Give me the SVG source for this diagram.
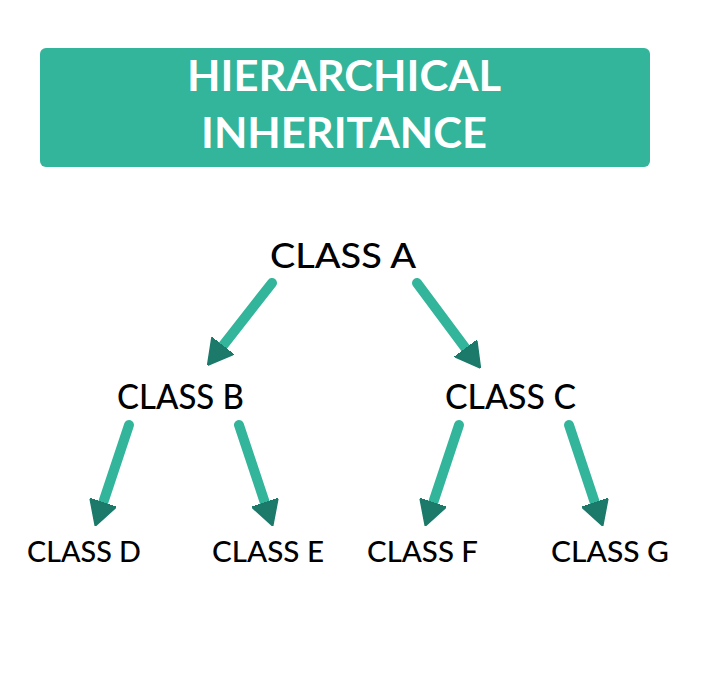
<svg xmlns="http://www.w3.org/2000/svg" width="727" height="685" viewBox="0 0 727 685">
<style>
.title{font-family:Lato,"Open Sans",sans-serif;font-weight:700;font-size:42px;fill:#ffffff;text-anchor:middle}
.lbl{font-family:Lato,"Open Sans",sans-serif;font-weight:500;fill:#000000;text-anchor:middle}
.big{font-size:35px}
.small{font-size:29px}
.edge{stroke:#32b59a;stroke-width:10;stroke-linecap:round;fill:none;marker-end:url(#ah)}
</style>
<defs>
<marker id="ah" markerUnits="userSpaceOnUse" viewBox="0 0 25 28" markerWidth="25" markerHeight="28" refX="1" refY="14" orient="auto">
<path d="M0,0 L25,14 L0,28 z" fill="#1b7a6a" stroke="#1b7a6a" stroke-width="1.5" stroke-linejoin="round"/>
</marker>
</defs>
<rect width="727" height="685" fill="#ffffff"/>
<g id="title">
<rect x="40" y="48" width="610" height="119" rx="6" fill="#32b59a"/>
<text class="title" x="344" y="91" textLength="314" lengthAdjust="spacingAndGlyphs">HIERARCHICAL</text>
<text class="title" x="344" y="148" textLength="286" lengthAdjust="spacingAndGlyphs">INHERITANCE</text>
</g>
<g id="connectors">
<line class="edge" x1="272" y1="283" x2="222.4" y2="346.3"/>
<line class="edge" x1="417" y1="283" x2="466.1" y2="348.9"/>
<line class="edge" x1="129" y1="425" x2="102.9" y2="503.3"/>
<line class="edge" x1="239" y1="425" x2="265.1" y2="503.3"/>
<line class="edge" x1="459" y1="425" x2="432.9" y2="503.3"/>
<line class="edge" x1="569" y1="425" x2="595.1" y2="503.3"/>
</g>
<g id="classA"><text class="lbl big" x="343" y="268" textLength="146" lengthAdjust="spacingAndGlyphs">CLASS A</text></g>
<g id="classB"><text class="lbl big" x="180.5" y="409" textLength="127" lengthAdjust="spacingAndGlyphs">CLASS B</text></g>
<g id="classC"><text class="lbl big" x="510.5" y="409" textLength="131" lengthAdjust="spacingAndGlyphs">CLASS C</text></g>
<g id="classD"><text class="lbl small" x="84" y="562" textLength="114" lengthAdjust="spacingAndGlyphs">CLASS D</text></g>
<g id="classE"><text class="lbl small" x="268" y="562" textLength="112" lengthAdjust="spacingAndGlyphs">CLASS E</text></g>
<g id="classF"><text class="lbl small" x="422.5" y="562" textLength="111" lengthAdjust="spacingAndGlyphs">CLASS F</text></g>
<g id="classG"><text class="lbl small" x="610" y="562" textLength="118" lengthAdjust="spacingAndGlyphs">CLASS G</text></g>
</svg>
